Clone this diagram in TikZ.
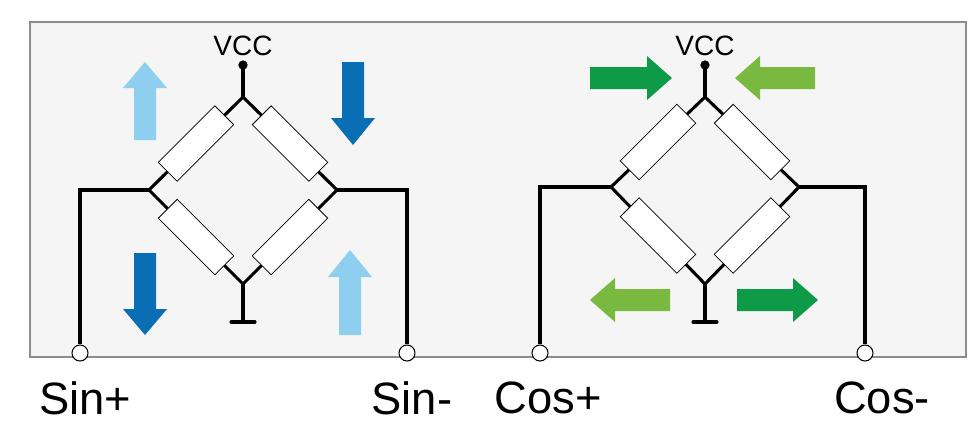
\documentclass[tikz,border=0pt]{standalone}
\usetikzlibrary{calc}
\usepackage{fontspec}
\setmainfont{Liberation Sans}
\begin{document}
\begin{tikzpicture}[x=0.75pt,y=-0.75pt,
  wire/.style={line width=2.3pt,line cap=round},
  swire/.style={line width=2.3pt,line join=miter},
  res/.style={draw,line width=0.6pt,fill=white,minimum width=60pt,minimum height=20pt,inner sep=0pt},
  term/.style={circle,draw,line width=0.8pt,fill=white,minimum size=12pt,inner sep=0pt},
  lbl/.style={font=\fontsize{34}{34}\selectfont,inner sep=0pt},
  vcc/.style={font=\fontsize{21}{21}\selectfont,inner sep=0pt}]
\definecolor{lb}{HTML}{8ECFEF}\definecolor{db}{HTML}{0A6EB4}
\definecolor{dg}{HTML}{0D9B48}\definecolor{lg}{HTML}{7AB940}
\newcommand\varr[5]{\fill[#1] (#2-11,#3)--(#2-11,#4)--(#2-22,#4)--(#2,#5)--(#2+22,#4)--(#2+11,#4)--(#2+11,#3)--cycle;}
\newcommand\harr[5]{\fill[#1] (#3,#2-11)--(#4,#2-11)--(#4,#2-22)--(#5,#2)--(#4,#2+22)--(#4,#2+11)--(#3,#2+11)--cycle;}
\useasboundingbox (0,0) rectangle (972,437);
\draw[fill=black!4,draw=black!45,line width=1pt] (30,22) rectangle (966,357);
\foreach \n/\cx/\my/\lx/\rx in {A/243/190/80/407, B/705/187/540/865}{
  \coordinate (\n v) at (\cx,65);
  \coordinate (\n t) at (\cx,97);
  \coordinate (\n l) at (\cx-94,\my);
  \coordinate (\n r) at (\cx+94,\my);
  \coordinate (\n b) at (\cx,284);
  \coordinate (\n g) at (\cx,322);
  \coordinate (\n lc) at (\lx,\my);
  \coordinate (\n rc) at (\rx,\my);
  \node[term] (\n L) at (\lx,353) {};
  \node[term] (\n R) at (\rx,353) {};
  \draw[wire] (\n v)--(\n t);
  \draw[wire] (\n t)--(\n l)--(\n b)--(\n r)--cycle;
  \draw[wire] (\n b)--(\n g);
  \draw[wire] ([xshift=-9pt]\n g)--([xshift=9pt]\n g);
  \draw[swire] (\n l)--(\n lc)--(\n L.north);
  \draw[swire] (\n r)--(\n rc)--(\n R.north);
  \fill (\n v) circle (3.5pt);
  \node[res,rotate=45] (\n r1) at ($(\n t)!0.5!(\n l)$) {};
  \node[res,rotate=-45] (\n r2) at ($(\n t)!0.5!(\n r)$) {};
  \node[res,rotate=-45] (\n r3) at ($(\n l)!0.5!(\n b)$) {};
  \node[res,rotate=45] (\n r4) at ($(\n r)!0.5!(\n b)$) {};
  \node[vcc,anchor=south] (\n vl) at (\cx,56) {VCC};
}
\node[lbl] (s1) at (85,398) {Sin+};
\node[lbl] (s2) at (412,398) {Sin-};
\node[lbl] (c1) at (548,398) {Cos+};
\node[lbl] (c2) at (882,398) {Cos-};
\varr{lb}{145}{140}{88}{62}
\varr{db}{353}{62}{118}{145}
\varr{db}{145}{253}{309}{335}
\varr{lb}{350}{335}{277}{250}
\harr{dg}{78}{590}{647}{672}
\harr{lg}{78}{815}{760}{735}
\harr{lg}{300}{670}{615}{590}
\harr{dg}{300}{737}{793}{818}
\end{tikzpicture}
\end{document}
